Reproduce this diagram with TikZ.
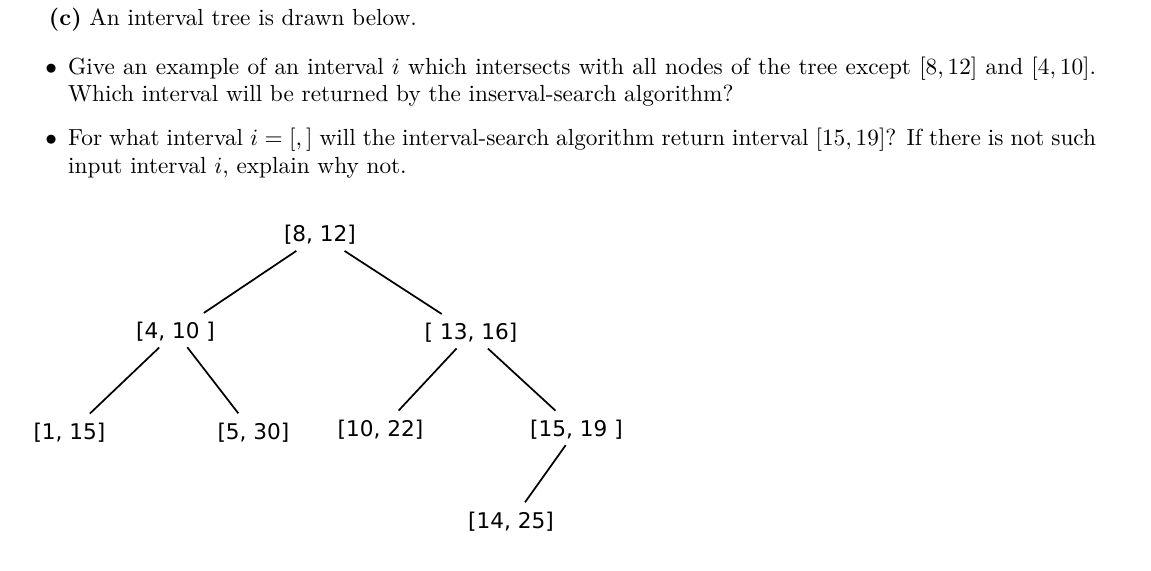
\documentclass[tikz,border=0pt]{standalone}
\usepackage{fontspec}
\newfontfamily\treefont{DejaVu Sans}
\begin{document}
\begin{tikzpicture}[x=0.4296pt,y=-0.4296pt,
  txt/.style={anchor=base west, inner sep=0pt, font=\fontsize{10}{12}\selectfont},
  tnode/.style={inner xsep=0pt, inner ysep=3.16pt, font=\treefont\fontsize{9.29}{11}\selectfont},
  edge/.style={line width=0.74pt, shorten <=-1.2pt, shorten >=1.2pt}]
\useasboundingbox (0,0) rectangle (1151,571);
% text
\node[txt] (title) at (48.5,26) {\textbf{(c)} An interval tree is drawn below.};
\node[txt] (b1) at (45,74.5) {$\bullet$};
\node[txt] (l1) at (67.7,74.5) {\makebox[441.6pt][s]{Give an example of an interval $i$ which intersects with all nodes of the tree except $[8,12]$ and $[4,10]$.}};
\node[txt] (l2) at (67.7,102) {Which interval will be returned by the inserval-search algorithm?};
\node[txt] (b2) at (45,146) {$\bullet$};
\node[txt] (l3) at (67.7,146) {\makebox[441.6pt][s]{For what interval $i=[,]$ will the interval-search algorithm return interval $[15,19]$? If there is not such}};
\node[txt] (l4) at (67.7,173.5) {input interval $i$, explain why not.};
% tree
\node[tnode] (n812)  at (320,235)   {[8, 12]};
\node[tnode] (n410)  at (175.5,332) {[4, 10 ]};
\node[tnode] (n1316) at (471,333)   {[ 13, 16]};
\node[tnode] (n115)  at (69.5,433)  {[1, 15]};
\node[tnode] (n530)  at (253.5,433) {[5, 30]};
\node[tnode] (n1022) at (380.5,430) {[10, 22]};
\node[tnode] (n1519) at (576.5,430) {[15, 19 ]};
\node[tnode] (n1425) at (511,522)   {[14, 25]};
\draw[edge] (n812) -- (n410);
\draw[edge] (n812) -- (n1316);
\draw[edge] (n410) -- (n115);
\draw[edge] (n410) -- (n530);
\draw[edge] (n1316) -- (n1022);
\draw[edge] (n1316) -- (n1519);
\draw[edge] (n1519) -- (n1425);
\end{tikzpicture}
\end{document}
